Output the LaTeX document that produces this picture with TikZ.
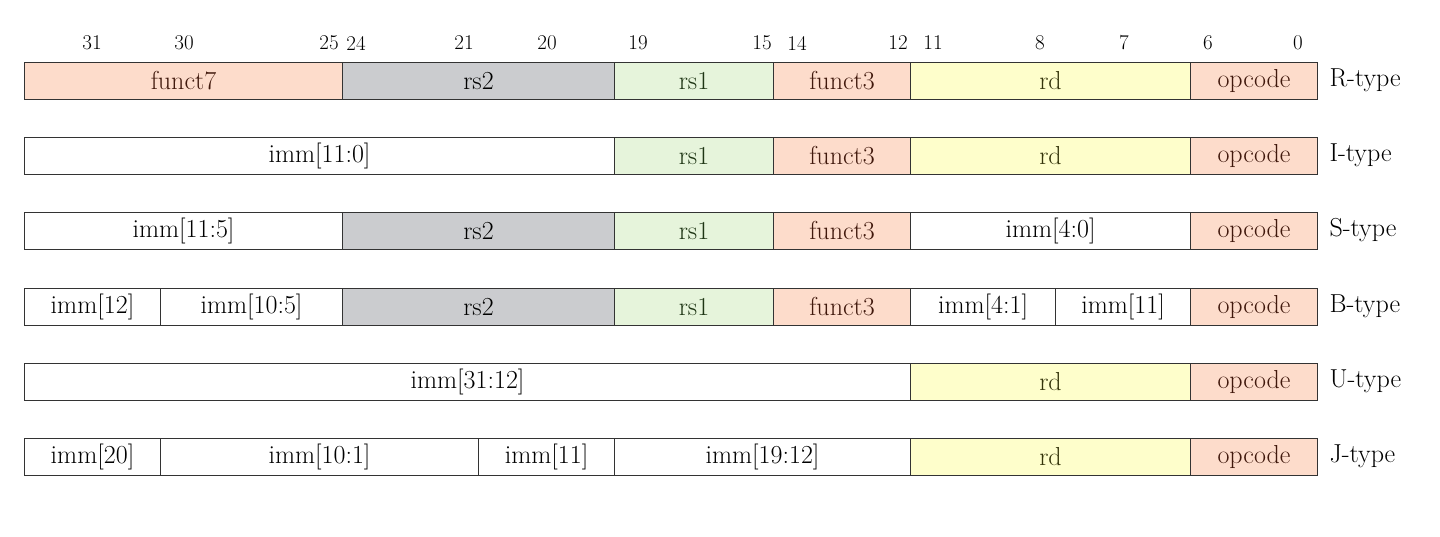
\documentclass[tikz,border=0pt]{standalone}
\begin{document}
\begin{tikzpicture}[x=1pt,y=-1pt,
 fld/.style={draw=black!80,line width=1pt,anchor=north west,inner sep=0pt,font=\fontsize{26}{28}\selectfont},
 bitn/.style={font=\fontsize{21}{23}\selectfont},
 lab/.style={anchor=west,font=\fontsize{26}{28}\selectfont}]
\definecolor{cA}{HTML}{FDDCCB}\definecolor{cG}{HTML}{CBCCCF}
\definecolor{cS}{HTML}{E6F4DB}\definecolor{cY}{HTML}{FEFECB}
\definecolor{tS}{HTML}{1E3514}\definecolor{tA}{HTML}{40180C}\definecolor{tY}{HTML}{34340A}
\useasboundingbox (0,0) rectangle (1440,536);
\foreach \n/\x in {31/92,30/184,25/329,24/356,21/464,20/547,19/638,15/762,14/797,12/898,11/933,8/1040,7/1124,6/1208,0/1298}
 \node[bitn] (b\n) at (\x,43) {\n};
\newcommand\fieldbox[6]{% name, x1, x2, row y, fill, text
 \node[fld,fill=#5,minimum width={#3-#2},minimum height=37] (#1) at (#2,#4) {#6};}
% R
\fieldbox{r1}{24}{342}{62}{cA}{\textcolor{tA}{funct7}}
\fieldbox{r2}{342}{614}{62}{cG}{rs2}
\fieldbox{r3}{614}{773}{62}{cS}{\textcolor{tS}{rs1}}
\fieldbox{r4}{773}{910}{62}{cA}{\textcolor{tA}{funct3}}
\fieldbox{r5}{910}{1190}{62}{cY}{\textcolor{tY}{rd}}
\fieldbox{r6}{1190}{1317}{62}{cA}{\textcolor{tA}{opcode}}
\node[lab] (lr) at (1326,80) {R-type};
% I
\fieldbox{i1}{24}{614}{137}{white}{imm[11:0]}
\fieldbox{i3}{614}{773}{137}{cS}{\textcolor{tS}{rs1}}
\fieldbox{i4}{773}{910}{137}{cA}{\textcolor{tA}{funct3}}
\fieldbox{i5}{910}{1190}{137}{cY}{\textcolor{tY}{rd}}
\fieldbox{i6}{1190}{1317}{137}{cA}{\textcolor{tA}{opcode}}
\node[lab] (li) at (1326,155) {I-type};
% S
\fieldbox{s1}{24}{342}{212}{white}{imm[11:5]}
\fieldbox{s2}{342}{614}{212}{cG}{rs2}
\fieldbox{s3}{614}{773}{212}{cS}{\textcolor{tS}{rs1}}
\fieldbox{s4}{773}{910}{212}{cA}{\textcolor{tA}{funct3}}
\fieldbox{s5}{910}{1190}{212}{white}{imm[4:0]}
\fieldbox{s6}{1190}{1317}{212}{cA}{\textcolor{tA}{opcode}}
\node[lab] (ls) at (1326,230) {S-type};
% B
\fieldbox{bb0}{24}{160}{288}{white}{imm[12]}
\fieldbox{bb1}{160}{342}{288}{white}{imm[10:5]}
\fieldbox{bb2}{342}{614}{288}{cG}{rs2}
\fieldbox{bb3}{614}{773}{288}{cS}{\textcolor{tS}{rs1}}
\fieldbox{bb4}{773}{910}{288}{cA}{\textcolor{tA}{funct3}}
\fieldbox{bb5}{910}{1055}{288}{white}{imm[4:1]}
\fieldbox{bb7}{1055}{1190}{288}{white}{imm[11]}
\fieldbox{bb6}{1190}{1317}{288}{cA}{\textcolor{tA}{opcode}}
\node[lab] (lb) at (1326,306) {B-type};
% U
\fieldbox{u1}{24}{910}{363}{white}{imm[31:12]}
\fieldbox{u5}{910}{1190}{363}{cY}{\textcolor{tY}{rd}}
\fieldbox{u6}{1190}{1317}{363}{cA}{\textcolor{tA}{opcode}}
\node[lab] (lu) at (1326,381) {U-type};
% J
\fieldbox{j0}{24}{160}{438}{white}{imm[20]}
\fieldbox{j1}{160}{478}{438}{white}{imm[10:1]}
\fieldbox{j2}{478}{614}{438}{white}{imm[11]}
\fieldbox{j3}{614}{910}{438}{white}{imm[19:12]}
\fieldbox{j5}{910}{1190}{438}{cY}{\textcolor{tY}{rd}}
\fieldbox{j6}{1190}{1317}{438}{cA}{\textcolor{tA}{opcode}}
\node[lab] (lj) at (1326,456) {J-type};
\end{tikzpicture}
\end{document}
